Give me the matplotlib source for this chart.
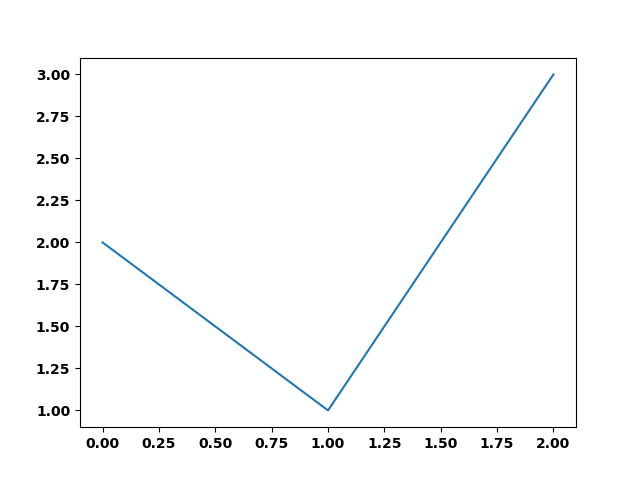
import matplotlib

matplotlib.use("Agg")

import matplotlib.pyplot as plt

x_values = [0, 1, 2]
y_values = [2, 1, 3]

fig, ax = plt.subplots(figsize=(6.4, 4.8), dpi=100)
ax.plot(x_values, y_values)

for label in ax.get_xticklabels() + ax.get_yticklabels():
    label.set_fontweight("bold")

fig.savefig("out.png")
